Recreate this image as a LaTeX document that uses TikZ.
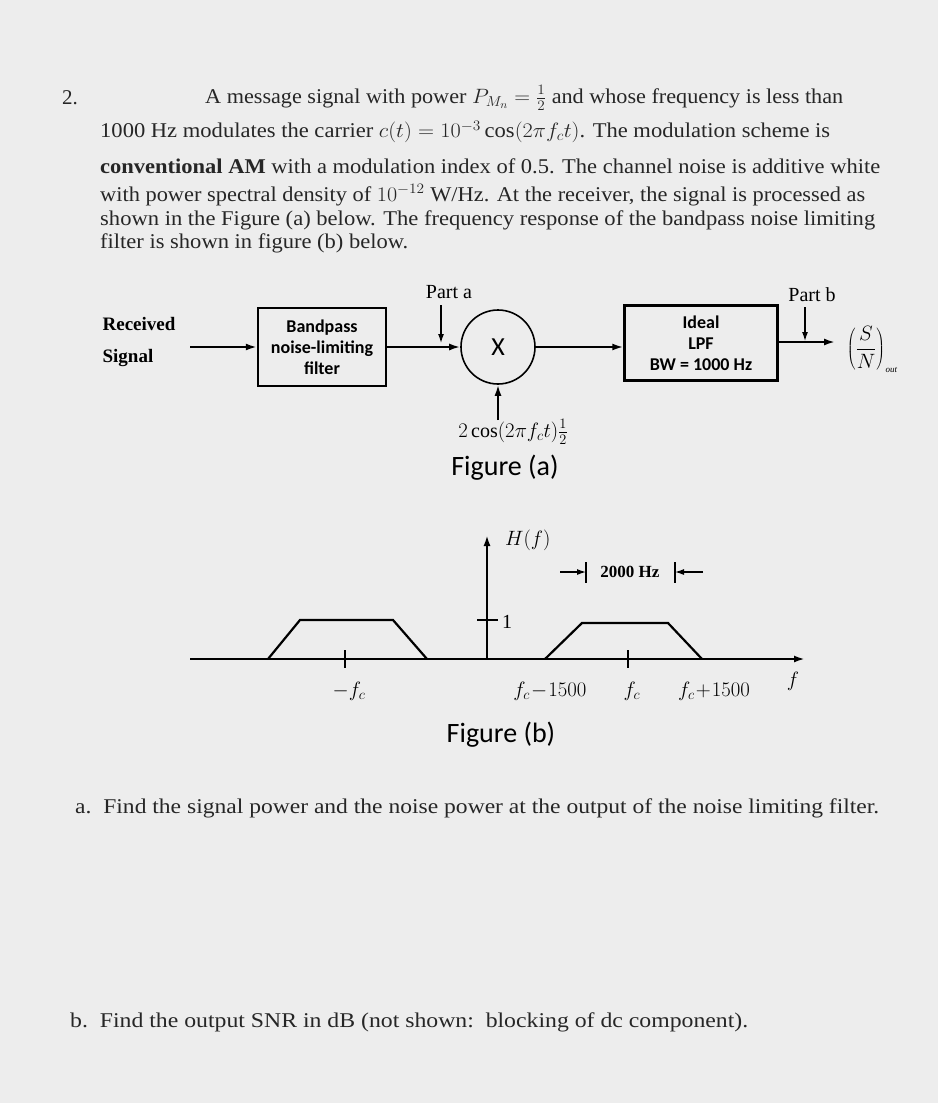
\documentclass[tikz,border=0pt]{standalone}
\usepackage{fontspec}
\setmainfont{Liberation Serif}
\newfontfamily\blk{Carlito}
\usetikzlibrary{arrows.meta}
\newcommand{\fitw}[2]{\resizebox{#1pt}{\height}{#2}}
\begin{document}
\begin{tikzpicture}[x=1pt,y=-1pt,
  txt/.style={anchor=west,inner sep=0pt,text=black!85,font=\fontsize{21}{22}\selectfont},
  bx/.style={draw,line width=2.4pt,minimum width=128pt,minimum height=78pt,align=center,font=\blk\bfseries\fontsize{18}{21}\selectfont},
  ar/.style={line width=2pt,-{Latex[length=11pt,width=7pt]}},
  thin/.style={line width=1.2pt,-{Latex[length=9pt,width=6pt]}},
  lab/.style={inner sep=0pt,font=\fontsize{20}{22}\selectfont}]
\fill[black!7] (0,0) rectangle (938,1103);
\useasboundingbox (0,0) rectangle (938,1103);
% text
\node[txt] (n2) at (62,98) {2.};
\node[txt] (l1) at (205,98) {\fitw{638}{A message signal with power $P_{M_n}=\frac{1}{2}$ and whose frequency is less than}};
\node[txt] (l2) at (100,132) {\fitw{730}{1000 Hz modulates the carrier $c(t)=10^{-3}\cos(2\pi f_c t)$. The modulation scheme is}};
\node[txt] (l3) at (100,166) {\fitw{780}{\textbf{conventional AM} with a modulation index of 0.5. The channel noise is additive white}};
\node[txt] (l4) at (100,195) {\fitw{765}{with power spectral density of $10^{-12}$ W/Hz. At the receiver, the signal is processed as}};
\node[txt] (l5) at (100,220) {\fitw{775}{shown in the Figure (a) below. The frequency response of the bandpass noise limiting}};
\node[txt] (l6) at (100,243) {\fitw{308}{filter is shown in figure (b) below.}};
% figure a
\node[align=left,font=\bfseries\fontsize{19}{32}\selectfont,inner sep=0pt] (rs) at (139,342) {Received\\Signal};
\node[bx] (bp) at (322,347) {Bandpass\\noise-limiting\\filter};
\node[draw,circle,line width=1.6pt,minimum size=74pt,font=\blk\fontsize{26}{26}\selectfont] (mx) at (498,347) {X};
\node[bx,minimum width=153pt,minimum height=75pt] (lpf) at (701,343) {Ideal\\LPF\\BW = 1000 Hz};
\node[font=\fontsize{20}{22}\selectfont,inner sep=0pt] (sn) at (866,348) {$\left(\displaystyle\frac{S}{N}\right)$};
\node[font=\fontsize{9}{9}\selectfont,inner sep=0pt,anchor=west] (so) at (sn.south east) {\textit{out}};
\node[lab] (pa) at (449,292) {Part a};
\node[lab] (pb) at (812,295) {Part b};
\node[lab] (cs) at (513,432) {$2\cos(2\pi f_c t)\frac{1}{2}$};
\node[font=\blk\fontsize{28}{28}\selectfont] (fa) at (505,468) {Figure (a)};
\coordinate (rse) at (190,347);
\coordinate (csn) at (498,420);
\coordinate (out) at (835,342);
\draw[ar] (rse) -- (bp.west);
\draw[ar] (bp.east) -- (mx.west);
\draw[ar] (mx.east) -- (lpf.west|-mx.east);
\draw[ar] (csn) -- (mx.south);
\draw[ar] (lpf.east|-out) -- (out);
\coordinate (pat) at (441,305); \coordinate (pab) at (441,343);
\coordinate (pbt) at (805,307); \coordinate (pbb) at (805,341);
\draw[thin] (pat) -- (pab);
\draw[thin] (pbt) -- (pbb);
% figure b
\coordinate (ax0) at (190,659); \coordinate (ax1) at (805,659);
\coordinate (vy0) at (487,659); \coordinate (vy1) at (487,535);
\draw[ar,line width=2.2pt] (ax0) -- (ax1);
\draw[ar,line width=2.2pt] (vy0) -- (vy1);
\draw[line width=2pt] (477,620) -- (498,620);
\node[lab,anchor=west] (one) at (502,622) {1};
\node[lab,anchor=west] (hf) at (505,540) {$H(f)$};
\draw[line width=2.2pt] (268,659) -- (300,620) -- (393,620) -- (427,659);
\draw[line width=2.2pt] (545,659) -- (582,623) -- (668,623) -- (702,659);
\draw[line width=1.4pt] (345,650) -- (345,668);
\draw[line width=1.4pt] (628,650) -- (628,668);
\node[lab] (mfc) at (349,691) {$-f_c$};
\node[lab] (f1) at (550,691) {$f_c\!-\!1500$};
\node[lab] (f2) at (632,691) {$f_c$};
\node[lab] (f3) at (714,691) {$f_c\!+\!1500$};
\node[lab] (fx) at (793,681) {$f$};
\node[lab,font=\bfseries\fontsize{17}{18}\selectfont] (hz) at (630,572) {2000 Hz};
\draw[line width=1.2pt] (586,562) -- (586,583);
\draw[line width=1.2pt] (675,562) -- (675,583);
\coordinate (h1) at (560,572); \coordinate (h2) at (703,572);
\draw[thin] (h1) -- (586,572);
\draw[thin] (h2) -- (675,572);
\node[font=\blk\fontsize{28}{28}\selectfont] (fb) at (501,735) {Figure (b)};
% questions
\node[txt] (qa) at (75,808) {\fitw{804}{a.\ \ Find the signal power and the noise power at the output of the noise limiting filter.}};
\node[txt] (qb) at (70,1022) {\fitw{678}{b.\ \ Find the output SNR in dB (not shown:\ \ blocking of dc component).}};
\end{tikzpicture}
\end{document}
